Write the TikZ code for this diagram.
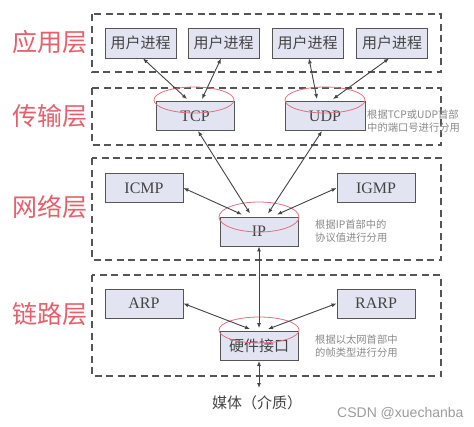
\documentclass[tikz,border=0pt]{standalone}
\usepackage{fontspec}
\setmainfont{Liberation Serif}
\newfontfamily\cjk{Noto Sans CJK SC}
\newfontfamily\wmfont{Liberation Sans}
\usetikzlibrary{arrows.meta,calc}
\definecolor{boxfill}{HTML}{E2E5F1}
\definecolor{boxline}{HTML}{555555}
\definecolor{layerred}{HTML}{E5606A}
\definecolor{ellred}{HTML}{E07080}
\definecolor{txtgray}{HTML}{444444}
\definecolor{notegray}{HTML}{8A8A8A}
\tikzset{
  x=1pt, y=-1pt,
  layerbox/.style={draw=boxline, line width=1.4pt, dash pattern=on 7pt off 4.5pt},
  layerlabel/.style={text=layerred, font=\cjk\fontsize{25}{25}\selectfont, inner sep=0pt},
  procbox/.style={draw=boxline, fill=boxfill, line width=0.9pt, minimum width=71pt, minimum height=30pt, inner sep=0pt, text=txtgray, font=\cjk\fontsize{15}{15}\selectfont},
  protobox/.style={draw=boxline, fill=boxfill, line width=0.9pt, minimum width=78pt, minimum height=29pt, inner sep=0pt, text=txtgray, font=\fontsize{16}{16}\selectfont},
  ringell/.style={draw=ellred, line width=0.8pt},
  note/.style={text=notegray, font=\cjk\fontsize{10.3}{13}\selectfont, align=left, inner sep=0pt, anchor=west},
  link/.style={draw=txtgray, line width=0.9pt, {Latex[length=5pt,width=4pt]}-{Latex[length=5pt,width=4pt]}},
}
\begin{document}
\begin{tikzpicture}
\useasboundingbox (0,0) rectangle (474,426);
\fill[white] (0,0) rectangle (474,426);

% layer frames
\draw[layerbox] (92,14) rectangle (441,72);
\draw[layerbox] (92,88) rectangle (441,145);
\draw[layerbox] (92,158) rectangle (441,260);
\draw[layerbox] (92,275) rectangle (441,376);

% layer labels
\node[layerlabel] (lapp) at (50,42) {应用层};
\node[layerlabel] (ltra) at (50,116) {传输层};
\node[layerlabel] (lnet) at (50,207) {网络层};
\node[layerlabel] (llnk) at (50,314) {链路层};

% application processes
\node[procbox] (app1) at (140.5,43) {用户进程};
\node[procbox] (app2) at (223.5,43) {用户进程};
\node[procbox] (app3) at (307.5,43) {用户进程};
\node[procbox] (app4) at (392,43) {用户进程};

% transport
\node[protobox] (tcp) at (195,116) {TCP};
\draw[ringell] (194,100) ellipse [x radius=40, y radius=13];
\node[protobox, minimum width=80pt] (udp) at (325,116) {UDP};
\draw[ringell] (325,100) ellipse [x radius=40, y radius=13];
\node[note] (nudp) at (367,121) {根据TCP或UDP首部\\中的端口号进行分用};

% network
\node[protobox] (icmp) at (144,188) {ICMP};
\node[protobox] (igmp) at (376,188) {IGMP};
\node[protobox] (ip) at (259,231.5) {IP};
\draw[ringell] (259,217) ellipse [x radius=40, y radius=15];
\node[note] (nip) at (315,231) {根据IP首部中的\\协议值进行分用};

% link
\node[protobox] (arp) at (144,303.5) {ARP};
\node[protobox] (rarp) at (376,303.5) {RARP};
\node[protobox, font=\cjk\fontsize{15}{15}\selectfont] (hw) at (259,346) {硬件接口};
\draw[ringell] (259,330) ellipse [x radius=40, y radius=13];
\node[note] (nlnk) at (315,346) {根据以太网首部中\\的帧类型进行分用};

% medium
\coordinate (med) at (259,388);
\node[text=txtgray, font=\cjk\fontsize{15}{15}\selectfont, inner sep=0pt] (medium) at (257,403) {媒体（介质）};

% connectors
\draw[link] ($(app1.south)+(2.5,0)$) -- ($(tcp.north)+(-8,-2)$);
\draw[link] ($(app2.south)+(-2.5,0)$) -- ($(tcp.north)+(7,-2)$);
\draw[link] ($(app3.south)+(1.5,0)$) -- ($(udp.north)+(-8,-2)$);
\draw[link] ($(app4.south)+(-3,0)$) -- ($(udp.north)+(8,-2)$);
\draw[link] ($(tcp.south)+(3,0)$) -- ($(ip.north)+(-9,-3)$);
\draw[link] ($(udp.south)+(-3,0)$) -- ($(ip.north)+(9,-3)$);
\draw[link] (icmp.east) -- ($(ip.north)+(-17,-2)$);
\draw[link] (igmp.west) -- ($(ip.north)+(18,-2)$);
\draw[link] (ip.south) -- ($(hw.north)+(0,-3)$);
\draw[link] (arp.east) -- ($(hw.north)+(-9,-2)$);
\draw[link] (rarp.west) -- ($(hw.north)+(9,-2)$);
\draw[link] (hw.south) -- (med);

% watermark
\node[text=notegray!85, font=\wmfont\fontsize{14}{14}\selectfont, inner sep=0pt, anchor=west] (wm) at (337,413) {CSDN @xuechanba};
\end{tikzpicture}
\end{document}
